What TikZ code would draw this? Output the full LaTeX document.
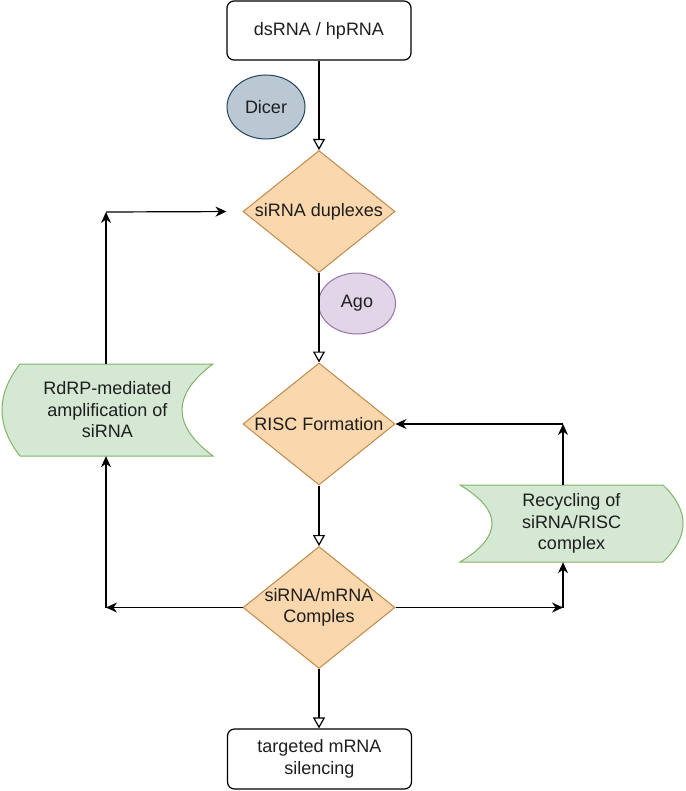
\documentclass[tikz,border=0pt]{standalone}
\usepackage{fontspec}
\setmainfont{Liberation Sans}
\usetikzlibrary{shapes.geometric,arrows.meta,backgrounds}
\definecolor{diafill}{HTML}{FAD7AC}
\definecolor{diadraw}{HTML}{C08A4A}
\definecolor{grnfill}{HTML}{D5E8D4}
\definecolor{grndraw}{HTML}{82B366}
\definecolor{dicfill}{HTML}{BAC8D3}
\definecolor{dicdraw}{HTML}{23445D}
\definecolor{agofill}{HTML}{E1D5E7}
\definecolor{agodraw}{HTML}{9673A6}
\definecolor{txt}{HTML}{1E1E1E}
\begin{document}
\begin{tikzpicture}[x=1pt,y=-1pt,
  every node/.style={font=\fontsize{18}{21.5}\selectfont, text=txt, inner sep=0pt},
  termbox/.style={draw=black, line width=1.2pt, rounded corners=7pt, fill=white, minimum width=184pt, minimum height=59pt, align=center},
  decision/.style={diamond, draw=diadraw, fill=diafill, line width=1pt, minimum width=152pt, minimum height=122pt},
  enzyme/.style={ellipse, line width=1pt, minimum width=77pt, minimum height=61pt},
  storebox/.style={rectangle, align=center},
  storeshape/.style={draw=grndraw, fill=grnfill, line width=1pt},
  flow/.style={draw=black, line width=1.2pt},
  openarrow/.style={flow, -{Triangle[open, length=11pt, width=12pt]}},
  solidarrow/.style={flow, -{Stealth[length=11pt, width=10pt]}},
]
\useasboundingbox (0,0) rectangle (685,791);

% main column
\node[termbox] (top) at (319,30.5) {dsRNA / hpRNA};
\node[decision, label={center:siRNA duplexes}] (d1) at (319,211.5) {};
\node[decision, label={center:RISC Formation}] (d2) at (319,424) {};
\node[decision, label={[align=center]center:siRNA/mRNA\\Comples}] (d3) at (319,607.5) {};
\node[termbox, minimum height=60pt] (bot) at (319.5,759) {targeted mRNA\\silencing};

% enzymes
\node[enzyme, draw=dicdraw, fill=dicfill, minimum width=78pt, minimum height=64pt] (dicer) at (266,107) {Dicer};
\node[enzyme, draw=agodraw, fill=agofill] (ago) at (357,303.5) {Ago};

% side stores
\node[storebox, minimum width=211pt, minimum height=92pt] (rdrp) at (107.5,410) {RdRP-mediated\\amplification of\\siRNA};
\node[storebox, minimum width=223pt, minimum height=77pt] (recyc) at (571.5,523.5) {Recycling of\\siRNA/RISC\\complex};
\begin{scope}[on background layer]
  \path[storeshape] (20,364) -- (213,364)
    .. controls (171.7,394.7) and (171.7,425.3) .. (213,456)
    -- (20,456)
    .. controls (-4,425.3) and (-4,394.7) .. (20,364) -- cycle;
  \path[storeshape] (460,485) -- (663,485)
    .. controls (689.7,510.7) and (689.7,536.3) .. (663,562)
    -- (460,562)
    .. controls (502.7,536.3) and (502.7,510.7) .. (460,485) -- cycle;
\end{scope}

% helper corners
\coordinate (lcorner) at (106,212);
\coordinate (lbottom) at (106,607.5);
\coordinate (rcorner) at (563,424);
\coordinate (rbottom) at (563,607.5);

% main flow
\draw[openarrow] (top.south) -- (d1.north);
\draw[openarrow] (d1.south) -- (d2.north);
\draw[openarrow] (d2.south) -- (d3.north);
\draw[openarrow] (d3.south) -- (d3.south |- bot.north);

% left loop
\draw[solidarrow] (d3.west) -- (lbottom);
\draw[solidarrow] (lbottom) -- (lbottom |- rdrp.south);
\draw[solidarrow] (lbottom |- rdrp.north) -- (lcorner);
\draw[solidarrow, shorten >=16pt] (lcorner) -- (d1.west);

% right loop
\draw[solidarrow] (d3.east) -- (rbottom);
\draw[solidarrow] (rbottom) -- (rbottom |- recyc.south);
\draw[solidarrow] (rbottom |- recyc.north) -- (rcorner);
\draw[solidarrow] (rcorner) -- (d2.east);
\end{tikzpicture}
\end{document}
